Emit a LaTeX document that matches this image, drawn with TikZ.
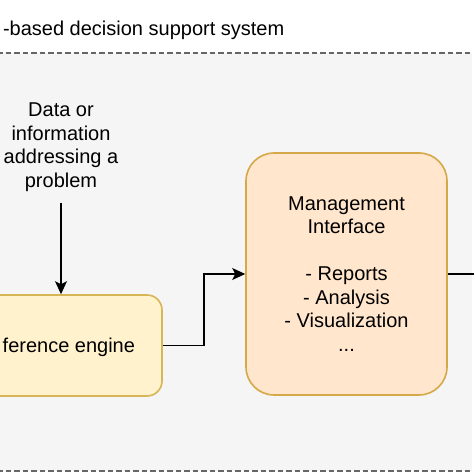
\documentclass[tikz,border=0pt]{standalone}
\usepackage{fontspec}
\setmainfont{Liberation Sans}
\usetikzlibrary{arrows.meta,positioning}
\definecolor{groupfill}{HTML}{F5F5F5}
\definecolor{groupline}{HTML}{666666}
\definecolor{yelfill}{HTML}{FFF2CC}
\definecolor{yelline}{HTML}{D6B656}
\definecolor{orfill}{HTML}{FFE6CC}
\definecolor{orline}{HTML}{D6A84A}
\tikzset{
  txt/.style={font=\fontsize{20}{23.5}\selectfont, align=center, inner sep=0pt},
  yelbox/.style={draw=yelline, fill=yelfill, line width=1.6pt, rounded corners=15pt,
    minimum width=200pt, minimum height=101pt, txt},
  orbox/.style={draw=orline, fill=orfill, line width=1.6pt, rounded corners=28pt,
    minimum width=201pt, minimum height=242pt, txt},
  conn/.style={line width=1.4pt, draw=black},
  arr/.style={conn, -{Stealth[length=13pt,width=12pt,inset=3pt]}},
  grpdash/.style={draw=groupline, line width=1.5pt, dash pattern=on 5.5pt off 3pt}
}
\begin{document}
\begin{tikzpicture}[x=1pt,y=1pt]
\useasboundingbox (0,0) rectangle (474,474);
% group background
\fill[groupfill] (-20,3) rectangle (472,421);
\draw[grpdash] (-20,421) -- (471,421);
\draw[grpdash] (-20,3) -- (471,3);
% title
\node[txt, anchor=base east] (title) at (284.5,438) {-based decision support system};
% data text
\node[txt] (data) at (61,327) {Data or\\information\\addressing a\\problem};
\coordinate (datastart) at (61,271);
% boxes
\node[yelbox] (inf) at (62,128.5) {};
\node[txt, anchor=base west] (inftext) at (2.5,121.5) {ference engine};
\node[orbox] (mgmt) at (346.5,200) {Management\\Interface\\[23.5pt]- Reports\\- Analysis\\- Visualization\\...};
\coordinate (rightend) at (480,200);
% connectors
\draw[arr] (datastart) -- (inf.north -| datastart);
\draw[arr] (inf.east) -- (204,128.5) |- (mgmt.west);
\draw[conn] (mgmt.east) -- (rightend);
\end{tikzpicture}
\end{document}
